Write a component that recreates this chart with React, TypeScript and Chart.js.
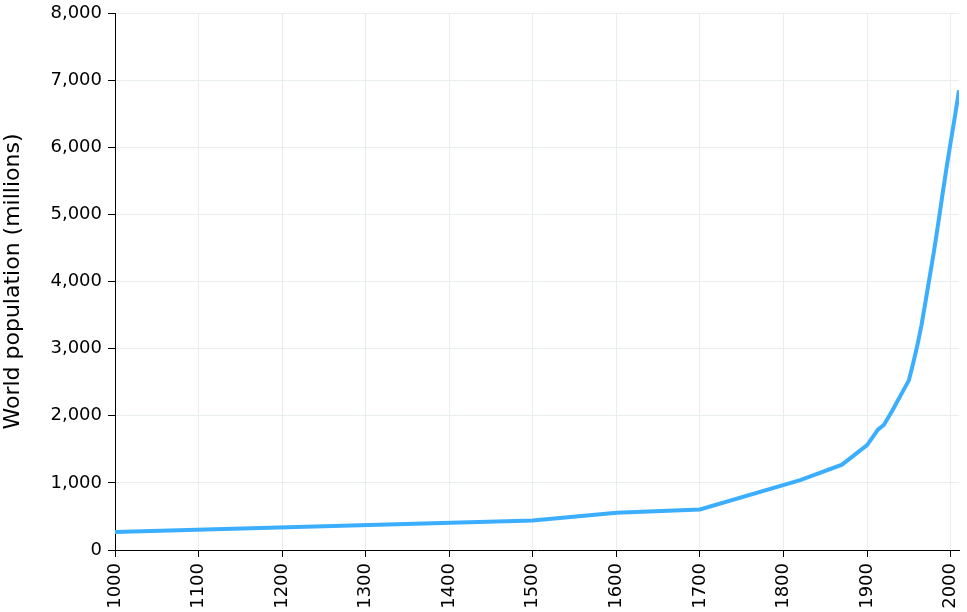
import React, { useEffect, useRef } from "react";
import { Chart, registerables } from "chart.js";

Chart.register(...registerables);

const years: number[] = [
  1000, 1500, 1600, 1700, 1820, 1870, 1900, 1913, 1920, 1930, 1940, 1950,
  1955, 1960, 1965, 1970, 1975, 1980, 1985, 1990, 1995, 2000, 2005, 2010,
];
const population: number[] = [
  267, 438, 556, 603, 1041, 1272, 1563, 1793, 1863, 2070, 2300, 2527,
  2773, 3038, 3343, 3703, 4076, 4447, 4852, 5275, 5687, 6074, 6450, 6850,
];
const xTicks: number[] = [1000, 1100, 1200, 1300, 1400, 1500, 1600, 1700, 1800, 1900, 2000];
const yTicks: number[] = [0, 1000, 2000, 3000, 4000, 5000, 6000, 7000, 8000];
const yAxisTitle = "World population (millions)";
const xMin = 1000;
const xMax = 2010;
const yMin = 0;
const yMax = 8000;

const FONT = "DejaVu Sans";

export default function App() {
  const ref = useRef<HTMLCanvasElement | null>(null);
  useEffect(() => {
    if (!ref.current) return;
    const chart = new Chart(ref.current, {
      type: "line",
      data: {
        datasets: [
          {
            data: years.map((x, i) => ({ x, y: population[i] })),
            borderColor: "#3caeff",
            borderWidth: 4,
            pointRadius: 0,
            tension: 0,
            fill: false,
          },
        ],
      },
      options: {
        animation: false,
        responsive: false,
        maintainAspectRatio: false,
        devicePixelRatio: 1,
        layout: { padding: { top: 13, right: 8, left: 0, bottom: 0 } },
        plugins: { legend: { display: false }, tooltip: { enabled: false } },
        scales: {
          x: {
            type: "linear",
            min: xMin,
            max: xMax,
            border: { color: "#000", width: 1 },
            grid: { color: "#e8eded", tickColor: "#000", tickLength: 7 },
            afterBuildTicks: (s: any) => {
              s.ticks = xTicks.map((value) => ({ value }));
            },
            ticks: {
              maxRotation: 90,
              minRotation: 90,
              autoSkip: false,
              padding: 6,
              color: "#000",
              font: { family: FONT, size: 18 },
              callback: (v: any) => String(v),
            },
            afterFit: (s: any) => {
              s.height = 62;
              s.paddingLeft = 0;
              s.paddingRight = 0;
            },
          },
          y: {
            type: "linear",
            min: yMin,
            max: yMax,
            border: { color: "#000", width: 1 },
            grid: { color: "#e8eded", tickColor: "#000", tickLength: 7 },
            afterBuildTicks: (s: any) => {
              s.ticks = yTicks.map((value) => ({ value }));
            },
            ticks: {
              padding: 6,
              color: "#000",
              font: { family: FONT, size: 18 },
              callback: (v: any) => Number(v).toLocaleString("en-US"),
            },
            title: {
              display: true,
              text: yAxisTitle,
              color: "#000",
              font: { family: FONT, size: 22 },
              padding: { top: 0, bottom: 4 },
            },
            afterFit: (s: any) => {
              s.width = 115;
              s.paddingTop = 0;
              s.paddingBottom = 0;
            },
          },
        },
      },
    });
    return () => chart.destroy();
  }, []);
  return (
    <div style={{ position: "fixed", left: 0, top: 0, width: 967, height: 612, background: "#fff" }}>
      <canvas ref={ref} width={967} height={612} style={{ display: "block" }} />
    </div>
  );
}
